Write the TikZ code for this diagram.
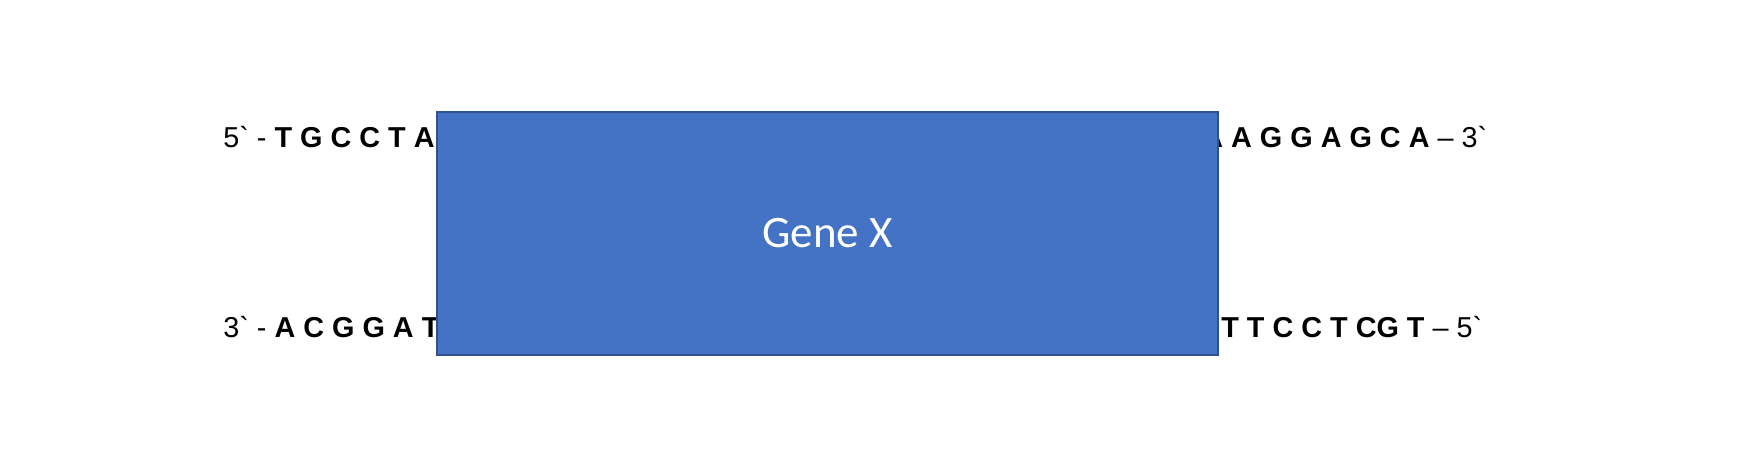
\documentclass[tikz,border=0pt]{standalone}
\usepackage{fontspec}
\newfontfamily\seqfont{Liberation Sans}
\newfontfamily\labelfont{Carlito}
\usetikzlibrary{positioning}

\definecolor{geneblue}{HTML}{4472C4}
\definecolor{geneedge}{HTML}{2F528F}

\tikzset{
  strand/.style={inner sep=0pt, anchor=base west, font=\seqfont\fontsize{14.4}{16}\selectfont},
  genebox/.style={fill=geneblue, draw=geneedge, line width=0.6pt, inner sep=0pt,
    minimum width=390.5pt, minimum height=121.5pt,
    text=white, font=\labelfont\fontsize{22.5}{26}\selectfont}
}

\newcommand{\bs}[1]{\textbf{#1}}

\begin{document}
\begin{tikzpicture}[x=0.5pt, y=-0.5pt]
  \useasboundingbox (0,0) rectangle (1752,470);

  % Strands behind the gene
  \node[strand] (topleft) at (223,148) {5` - \bs{T G C C T A}};
  \node[strand] (topright) at (1202,148) {\bs{A A G G A G C A} – 3`};
  \node[strand] (botleft) at (223,338) {3` - \bs{A C G G A T}};
  \node[strand] (botright) at (1221,338) {\bs{T T C C T CG T} – 5`};

  % Gene box on top
  \node[genebox] (gene) at (827.5,233.5) {Gene X};
\end{tikzpicture}
\end{document}
